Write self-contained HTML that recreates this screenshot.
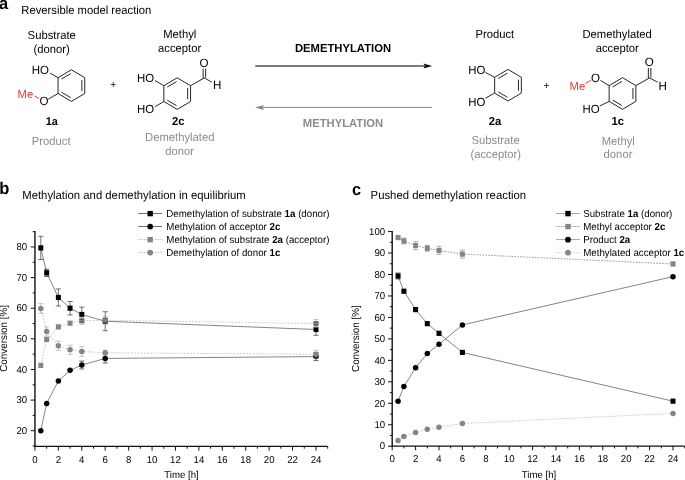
<!DOCTYPE html>
<html lang="en">
<head>
<meta charset="utf-8">
<title>Reversible model reaction</title>
<style>
html,body{margin:0;padding:0;background:#fff;}
body{width:685px;height:480px;overflow:hidden;}
svg{display:block;font-family:"Liberation Sans",sans-serif;text-rendering:geometricPrecision;}
</style>
</head>
<body>
<svg width="685" height="480" viewBox="0 0 685 480">
<rect width="685" height="480" fill="#fff"/>
<g id="panel-a">
<text transform="translate(-0.90 8.75) scale(1 1.035)" font-size="16.5" text-anchor="start" font-weight="bold" fill="#000">a</text>
<text transform="translate(21.30 13.75) scale(1 1.035)" font-size="11.25" text-anchor="start" fill="#000">Reversible model reaction</text>
<text transform="translate(51.70 38.90) scale(1 1.035)" font-size="11.25" text-anchor="middle" fill="#000">Substrate</text>
<text transform="translate(51.60 53.20) scale(1 1.035)" font-size="11.25" text-anchor="middle" fill="#000">(donor)</text>
<polygon points="71.40,69.80 84.75,77.70 84.75,93.50 71.40,101.40 58.05,93.50 58.05,77.70" fill="none" stroke="#1a1a1a" stroke-width="0.95" stroke-linejoin="round"/>
<line x1="61.54" y1="79.00" x2="70.76" y2="73.55" stroke="#1a1a1a" stroke-width="0.95"/>
<line x1="81.85" y1="80.10" x2="81.85" y2="91.10" stroke="#1a1a1a" stroke-width="0.95"/>
<line x1="70.76" y1="97.65" x2="61.54" y2="92.20" stroke="#1a1a1a" stroke-width="0.95"/>
<text transform="translate(48.90 74.30) scale(1 1.035)" font-size="11.5" text-anchor="end" fill="#000">HO</text>
<line x1="49.90" y1="73.00" x2="58.05" y2="77.70" stroke="#1a1a1a" stroke-width="0.95"/>
<text transform="translate(43.90 105.00) scale(1 1.035)" font-size="11.6" text-anchor="middle" fill="#000">O</text>
<line x1="48.20" y1="99.20" x2="58.05" y2="93.50" stroke="#1a1a1a" stroke-width="0.95"/>
<text transform="translate(17.60 98.10) scale(1 1.035)" font-size="11.25" text-anchor="start" fill="#df3b32">Me</text>
<line x1="34.60" y1="96.00" x2="39.00" y2="98.50" stroke="#df3b32" stroke-width="0.95"/>
<text transform="translate(51.70 124.50) scale(1 1.035)" font-size="10.9" text-anchor="middle" font-weight="bold" fill="#000">1a</text>
<text transform="translate(51.20 144.50) scale(1 1.035)" font-size="11.25" text-anchor="middle" fill="#8c8c8c">Product</text>
<text transform="translate(113.10 88.20) scale(1 1.035)" font-size="10" text-anchor="middle" fill="#000">+</text>
<text transform="translate(179.80 38.00) scale(1 1.035)" font-size="11.25" text-anchor="middle" fill="#000">Methyl</text>
<text transform="translate(179.60 51.90) scale(1 1.035)" font-size="11.25" text-anchor="middle" fill="#000">acceptor</text>
<polygon points="177.20,77.80 190.55,85.70 190.55,101.50 177.20,109.40 163.85,101.50 163.85,85.70" fill="none" stroke="#1a1a1a" stroke-width="0.95" stroke-linejoin="round"/>
<line x1="167.34" y1="87.00" x2="176.56" y2="81.55" stroke="#1a1a1a" stroke-width="0.95"/>
<line x1="187.65" y1="88.10" x2="187.65" y2="99.10" stroke="#1a1a1a" stroke-width="0.95"/>
<line x1="176.56" y1="105.65" x2="167.34" y2="100.20" stroke="#1a1a1a" stroke-width="0.95"/>
<text transform="translate(154.20 82.40) scale(1 1.035)" font-size="11.4" text-anchor="end" fill="#000">HO</text>
<line x1="155.00" y1="80.60" x2="163.85" y2="85.70" stroke="#1a1a1a" stroke-width="0.95"/>
<text transform="translate(154.20 113.40) scale(1 1.035)" font-size="11.4" text-anchor="end" fill="#000">HO</text>
<line x1="155.00" y1="106.70" x2="163.85" y2="101.50" stroke="#1a1a1a" stroke-width="0.95"/>
<line x1="190.55" y1="85.70" x2="204.40" y2="77.90" stroke="#1a1a1a" stroke-width="0.95"/>
<line x1="203.15" y1="78.20" x2="203.15" y2="68.60" stroke="#1a1a1a" stroke-width="0.95"/>
<line x1="205.65" y1="77.50" x2="205.65" y2="68.60" stroke="#1a1a1a" stroke-width="0.95"/>
<text transform="translate(203.90 66.80) scale(1 1.035)" font-size="11.6" text-anchor="middle" fill="#000">O</text>
<line x1="204.40" y1="77.90" x2="211.80" y2="82.20" stroke="#1a1a1a" stroke-width="0.95"/>
<text transform="translate(217.30 89.00) scale(1 1.035)" font-size="11.6" text-anchor="middle" fill="#000">H</text>
<text transform="translate(178.30 124.50) scale(1 1.035)" font-size="11.25" text-anchor="middle" font-weight="bold" fill="#000">2c</text>
<text transform="translate(179.80 141.30) scale(1 1.035)" font-size="11.25" text-anchor="middle" fill="#8c8c8c">Demethylated</text>
<text transform="translate(179.60 155.20) scale(1 1.035)" font-size="11.25" text-anchor="middle" fill="#8c8c8c">donor</text>
<line x1="255.20" y1="66.00" x2="426.00" y2="66.00" stroke="#505050" stroke-width="1.3"/>
<polygon points="432.3,66.0 423.5,63.5 425.0,66.0 423.5,68.5" fill="#111"/>
<text transform="translate(343.00 52.10) scale(1 1.035)" font-size="11.25" text-anchor="middle" font-weight="bold" fill="#000">DEMETHYLATION</text>
<line x1="262.00" y1="107.40" x2="432.10" y2="107.40" stroke="#8a8a8a" stroke-width="1.0"/>
<polygon points="255,107.4 264,104.9 262.4,107.4 264,109.9" fill="#8a8a8a"/>
<text transform="translate(343.00 127.20) scale(1 1.035)" font-size="11.25" text-anchor="middle" font-weight="bold" fill="#8c8c8c">METHYLATION</text>
<text transform="translate(494.80 37.90) scale(1 1.035)" font-size="11.25" text-anchor="middle" fill="#000">Product</text>
<polygon points="508.00,69.40 521.35,77.30 521.35,93.10 508.00,101.00 494.65,93.10 494.65,77.30" fill="none" stroke="#1a1a1a" stroke-width="0.95" stroke-linejoin="round"/>
<line x1="498.14" y1="78.60" x2="507.36" y2="73.15" stroke="#1a1a1a" stroke-width="0.95"/>
<line x1="518.45" y1="79.70" x2="518.45" y2="90.70" stroke="#1a1a1a" stroke-width="0.95"/>
<line x1="507.36" y1="97.25" x2="498.14" y2="91.80" stroke="#1a1a1a" stroke-width="0.95"/>
<text transform="translate(485.30 74.20) scale(1 1.035)" font-size="11.4" text-anchor="end" fill="#000">HO</text>
<line x1="485.40" y1="72.40" x2="494.65" y2="77.30" stroke="#1a1a1a" stroke-width="0.95"/>
<text transform="translate(485.30 105.70) scale(1 1.035)" font-size="11.4" text-anchor="end" fill="#000">HO</text>
<line x1="485.40" y1="98.20" x2="494.65" y2="93.10" stroke="#1a1a1a" stroke-width="0.95"/>
<text transform="translate(495.00 124.50) scale(1 1.035)" font-size="11.25" text-anchor="middle" font-weight="bold" fill="#000">2a</text>
<text transform="translate(495.60 144.20) scale(1 1.035)" font-size="11.25" text-anchor="middle" fill="#8c8c8c">Substrate</text>
<text transform="translate(495.80 157.60) scale(1 1.035)" font-size="11.25" text-anchor="middle" fill="#8c8c8c">(acceptor)</text>
<text transform="translate(546.30 89.00) scale(1 1.035)" font-size="10" text-anchor="middle" fill="#000">+</text>
<text transform="translate(617.10 38.30) scale(1 1.035)" font-size="11.25" text-anchor="middle" fill="#000">Demethylated</text>
<text transform="translate(617.30 52.20) scale(1 1.035)" font-size="11.25" text-anchor="middle" fill="#000">acceptor</text>
<polygon points="622.50,77.70 635.85,85.60 635.85,101.40 622.50,109.30 609.15,101.40 609.15,85.60" fill="none" stroke="#1a1a1a" stroke-width="0.95" stroke-linejoin="round"/>
<line x1="612.64" y1="86.90" x2="621.86" y2="81.45" stroke="#1a1a1a" stroke-width="0.95"/>
<line x1="632.95" y1="88.00" x2="632.95" y2="99.00" stroke="#1a1a1a" stroke-width="0.95"/>
<line x1="621.86" y1="105.55" x2="612.64" y2="100.10" stroke="#1a1a1a" stroke-width="0.95"/>
<text transform="translate(595.40 81.90) scale(1 1.035)" font-size="11.6" text-anchor="middle" fill="#000">O</text>
<line x1="600.40" y1="80.40" x2="609.15" y2="85.60" stroke="#1a1a1a" stroke-width="0.95"/>
<text transform="translate(569.60 89.60) scale(1 1.035)" font-size="11.25" text-anchor="start" fill="#df3b32">Me</text>
<line x1="585.40" y1="83.50" x2="590.80" y2="80.40" stroke="#df3b32" stroke-width="0.95"/>
<text transform="translate(599.60 113.40) scale(1 1.035)" font-size="11.4" text-anchor="end" fill="#000">HO</text>
<line x1="599.70" y1="106.00" x2="609.15" y2="101.40" stroke="#1a1a1a" stroke-width="0.95"/>
<line x1="635.85" y1="85.60" x2="649.60" y2="77.90" stroke="#1a1a1a" stroke-width="0.95"/>
<line x1="648.35" y1="78.20" x2="648.35" y2="68.00" stroke="#1a1a1a" stroke-width="0.95"/>
<line x1="650.85" y1="77.50" x2="650.85" y2="68.00" stroke="#1a1a1a" stroke-width="0.95"/>
<text transform="translate(649.20 66.30) scale(1 1.035)" font-size="11.6" text-anchor="middle" fill="#000">O</text>
<line x1="649.60" y1="77.90" x2="657.60" y2="82.20" stroke="#1a1a1a" stroke-width="0.95"/>
<text transform="translate(662.70 89.60) scale(1 1.035)" font-size="11.6" text-anchor="middle" fill="#000">H</text>
<text transform="translate(617.80 124.50) scale(1 1.035)" font-size="11.25" text-anchor="middle" font-weight="bold" fill="#000">1c</text>
<text transform="translate(618.20 144.50) scale(1 1.035)" font-size="11.25" text-anchor="middle" fill="#8c8c8c">Methyl</text>
<text transform="translate(618.00 157.60) scale(1 1.035)" font-size="11.25" text-anchor="middle" fill="#8c8c8c">donor</text>
</g>
<text transform="translate(-0.70 194.30) scale(1 1.035)" font-size="16.5" text-anchor="start" font-weight="bold" fill="#000">b</text>
<text transform="translate(22.20 198.70) scale(1 1.035)" font-size="11.33" text-anchor="start" fill="#000">Methylation and demethylation in equilibrium</text>
<g id="chart-b">
<line x1="34.95" y1="231.06" x2="34.95" y2="447.00" stroke="#111" stroke-width="1.4"/>
<line x1="34.35" y1="446.40" x2="327.70" y2="446.40" stroke="#111" stroke-width="1.4"/>
<line x1="32.65" y1="446.00" x2="34.95" y2="446.00" stroke="#111" stroke-width="1.0"/>
<line x1="30.75" y1="430.69" x2="34.95" y2="430.69" stroke="#111" stroke-width="1.0"/>
<text transform="translate(27.20 433.89) scale(1 1.035)" font-size="9.65" text-anchor="end" fill="#000">20</text>
<line x1="32.65" y1="415.38" x2="34.95" y2="415.38" stroke="#111" stroke-width="1.0"/>
<line x1="30.75" y1="400.07" x2="34.95" y2="400.07" stroke="#111" stroke-width="1.0"/>
<text transform="translate(27.20 403.27) scale(1 1.035)" font-size="9.65" text-anchor="end" fill="#000">30</text>
<line x1="32.65" y1="384.76" x2="34.95" y2="384.76" stroke="#111" stroke-width="1.0"/>
<line x1="30.75" y1="369.45" x2="34.95" y2="369.45" stroke="#111" stroke-width="1.0"/>
<text transform="translate(27.20 372.65) scale(1 1.035)" font-size="9.65" text-anchor="end" fill="#000">40</text>
<line x1="32.65" y1="354.14" x2="34.95" y2="354.14" stroke="#111" stroke-width="1.0"/>
<line x1="30.75" y1="338.83" x2="34.95" y2="338.83" stroke="#111" stroke-width="1.0"/>
<text transform="translate(27.20 342.03) scale(1 1.035)" font-size="9.65" text-anchor="end" fill="#000">50</text>
<line x1="32.65" y1="323.52" x2="34.95" y2="323.52" stroke="#111" stroke-width="1.0"/>
<line x1="30.75" y1="308.21" x2="34.95" y2="308.21" stroke="#111" stroke-width="1.0"/>
<text transform="translate(27.20 311.41) scale(1 1.035)" font-size="9.65" text-anchor="end" fill="#000">60</text>
<line x1="32.65" y1="292.90" x2="34.95" y2="292.90" stroke="#111" stroke-width="1.0"/>
<line x1="30.75" y1="277.59" x2="34.95" y2="277.59" stroke="#111" stroke-width="1.0"/>
<text transform="translate(27.20 280.79) scale(1 1.035)" font-size="9.65" text-anchor="end" fill="#000">70</text>
<line x1="32.65" y1="262.28" x2="34.95" y2="262.28" stroke="#111" stroke-width="1.0"/>
<line x1="30.75" y1="246.97" x2="34.95" y2="246.97" stroke="#111" stroke-width="1.0"/>
<text transform="translate(27.20 250.17) scale(1 1.035)" font-size="9.65" text-anchor="end" fill="#000">80</text>
<line x1="32.65" y1="231.66" x2="34.95" y2="231.66" stroke="#111" stroke-width="1.0"/>
<line x1="34.95" y1="446.40" x2="34.95" y2="450.60" stroke="#111" stroke-width="1.0"/>
<text transform="translate(34.95 462.70) scale(1 1.035)" font-size="9.65" text-anchor="middle" fill="#000">0</text>
<line x1="46.66" y1="446.40" x2="46.66" y2="448.70" stroke="#111" stroke-width="1.0"/>
<line x1="58.37" y1="446.40" x2="58.37" y2="450.60" stroke="#111" stroke-width="1.0"/>
<text transform="translate(58.37 462.70) scale(1 1.035)" font-size="9.65" text-anchor="middle" fill="#000">2</text>
<line x1="70.08" y1="446.40" x2="70.08" y2="448.70" stroke="#111" stroke-width="1.0"/>
<line x1="81.79" y1="446.40" x2="81.79" y2="450.60" stroke="#111" stroke-width="1.0"/>
<text transform="translate(81.79 462.70) scale(1 1.035)" font-size="9.65" text-anchor="middle" fill="#000">4</text>
<line x1="93.50" y1="446.40" x2="93.50" y2="448.70" stroke="#111" stroke-width="1.0"/>
<line x1="105.21" y1="446.40" x2="105.21" y2="450.60" stroke="#111" stroke-width="1.0"/>
<text transform="translate(105.21 462.70) scale(1 1.035)" font-size="9.65" text-anchor="middle" fill="#000">6</text>
<line x1="116.92" y1="446.40" x2="116.92" y2="448.70" stroke="#111" stroke-width="1.0"/>
<line x1="128.63" y1="446.40" x2="128.63" y2="450.60" stroke="#111" stroke-width="1.0"/>
<text transform="translate(128.63 462.70) scale(1 1.035)" font-size="9.65" text-anchor="middle" fill="#000">8</text>
<line x1="140.34" y1="446.40" x2="140.34" y2="448.70" stroke="#111" stroke-width="1.0"/>
<line x1="152.05" y1="446.40" x2="152.05" y2="450.60" stroke="#111" stroke-width="1.0"/>
<text transform="translate(152.05 462.70) scale(1 1.035)" font-size="9.65" text-anchor="middle" fill="#000">10</text>
<line x1="163.76" y1="446.40" x2="163.76" y2="448.70" stroke="#111" stroke-width="1.0"/>
<line x1="175.47" y1="446.40" x2="175.47" y2="450.60" stroke="#111" stroke-width="1.0"/>
<text transform="translate(175.47 462.70) scale(1 1.035)" font-size="9.65" text-anchor="middle" fill="#000">12</text>
<line x1="187.18" y1="446.40" x2="187.18" y2="448.70" stroke="#111" stroke-width="1.0"/>
<line x1="198.89" y1="446.40" x2="198.89" y2="450.60" stroke="#111" stroke-width="1.0"/>
<text transform="translate(198.89 462.70) scale(1 1.035)" font-size="9.65" text-anchor="middle" fill="#000">14</text>
<line x1="210.60" y1="446.40" x2="210.60" y2="448.70" stroke="#111" stroke-width="1.0"/>
<line x1="222.31" y1="446.40" x2="222.31" y2="450.60" stroke="#111" stroke-width="1.0"/>
<text transform="translate(222.31 462.70) scale(1 1.035)" font-size="9.65" text-anchor="middle" fill="#000">16</text>
<line x1="234.02" y1="446.40" x2="234.02" y2="448.70" stroke="#111" stroke-width="1.0"/>
<line x1="245.73" y1="446.40" x2="245.73" y2="450.60" stroke="#111" stroke-width="1.0"/>
<text transform="translate(245.73 462.70) scale(1 1.035)" font-size="9.65" text-anchor="middle" fill="#000">18</text>
<line x1="257.44" y1="446.40" x2="257.44" y2="448.70" stroke="#111" stroke-width="1.0"/>
<line x1="269.15" y1="446.40" x2="269.15" y2="450.60" stroke="#111" stroke-width="1.0"/>
<text transform="translate(269.15 462.70) scale(1 1.035)" font-size="9.65" text-anchor="middle" fill="#000">20</text>
<line x1="280.86" y1="446.40" x2="280.86" y2="448.70" stroke="#111" stroke-width="1.0"/>
<line x1="292.57" y1="446.40" x2="292.57" y2="450.60" stroke="#111" stroke-width="1.0"/>
<text transform="translate(292.57 462.70) scale(1 1.035)" font-size="9.65" text-anchor="middle" fill="#000">22</text>
<line x1="304.28" y1="446.40" x2="304.28" y2="448.70" stroke="#111" stroke-width="1.0"/>
<line x1="315.99" y1="446.40" x2="315.99" y2="450.60" stroke="#111" stroke-width="1.0"/>
<text transform="translate(315.99 462.70) scale(1 1.035)" font-size="9.65" text-anchor="middle" fill="#000">24</text>
<line x1="327.70" y1="446.40" x2="327.70" y2="448.70" stroke="#111" stroke-width="1.0"/>
<polyline points="40.81,247.89 46.66,272.84 58.37,297.49 70.08,308.21 81.79,314.49 105.21,321.22 315.99,329.49" fill="none" stroke="#333" stroke-width="0.6"/>
<line x1="40.81" y1="236.25" x2="40.81" y2="259.52" stroke="#000" stroke-width="0.55"/>
<line x1="38.21" y1="236.25" x2="43.41" y2="236.25" stroke="#000" stroke-width="0.55"/>
<line x1="38.21" y1="259.52" x2="43.41" y2="259.52" stroke="#000" stroke-width="0.55"/>
<line x1="46.66" y1="269.17" x2="46.66" y2="276.52" stroke="#000" stroke-width="0.55"/>
<line x1="44.06" y1="269.17" x2="49.26" y2="269.17" stroke="#000" stroke-width="0.55"/>
<line x1="44.06" y1="276.52" x2="49.26" y2="276.52" stroke="#000" stroke-width="0.55"/>
<line x1="58.37" y1="288.92" x2="58.37" y2="306.07" stroke="#000" stroke-width="0.55"/>
<line x1="55.77" y1="288.92" x2="60.97" y2="288.92" stroke="#000" stroke-width="0.55"/>
<line x1="55.77" y1="306.07" x2="60.97" y2="306.07" stroke="#000" stroke-width="0.55"/>
<line x1="70.08" y1="301.47" x2="70.08" y2="314.95" stroke="#000" stroke-width="0.55"/>
<line x1="67.48" y1="301.47" x2="72.68" y2="301.47" stroke="#000" stroke-width="0.55"/>
<line x1="67.48" y1="314.95" x2="72.68" y2="314.95" stroke="#000" stroke-width="0.55"/>
<line x1="81.79" y1="307.14" x2="81.79" y2="321.84" stroke="#000" stroke-width="0.55"/>
<line x1="79.19" y1="307.14" x2="84.39" y2="307.14" stroke="#000" stroke-width="0.55"/>
<line x1="79.19" y1="321.84" x2="84.39" y2="321.84" stroke="#000" stroke-width="0.55"/>
<line x1="105.21" y1="311.73" x2="105.21" y2="330.72" stroke="#000" stroke-width="0.55"/>
<line x1="102.61" y1="311.73" x2="107.81" y2="311.73" stroke="#000" stroke-width="0.55"/>
<line x1="102.61" y1="330.72" x2="107.81" y2="330.72" stroke="#000" stroke-width="0.55"/>
<line x1="315.99" y1="323.67" x2="315.99" y2="335.31" stroke="#000" stroke-width="0.55"/>
<line x1="313.39" y1="323.67" x2="318.59" y2="323.67" stroke="#000" stroke-width="0.55"/>
<line x1="313.39" y1="335.31" x2="318.59" y2="335.31" stroke="#000" stroke-width="0.55"/>
<rect x="38.31" y="245.29" width="5" height="5.2" fill="#000"/>
<rect x="44.16" y="270.24" width="5" height="5.2" fill="#000"/>
<rect x="55.87" y="294.89" width="5" height="5.2" fill="#000"/>
<rect x="67.58" y="305.61" width="5" height="5.2" fill="#000"/>
<rect x="79.29" y="311.89" width="5" height="5.2" fill="#000"/>
<rect x="102.71" y="318.62" width="5" height="5.2" fill="#000"/>
<rect x="313.49" y="326.89" width="5" height="5.2" fill="#000"/>
<polyline points="40.81,430.69 46.66,403.44 58.37,380.93 70.08,370.37 81.79,365.01 105.21,358.43 315.99,356.59" fill="none" stroke="#333" stroke-width="0.6"/>
<line x1="81.79" y1="361.03" x2="81.79" y2="368.99" stroke="#000" stroke-width="0.55"/>
<line x1="79.19" y1="361.03" x2="84.39" y2="361.03" stroke="#000" stroke-width="0.55"/>
<line x1="79.19" y1="368.99" x2="84.39" y2="368.99" stroke="#000" stroke-width="0.55"/>
<line x1="105.21" y1="353.83" x2="105.21" y2="363.02" stroke="#000" stroke-width="0.55"/>
<line x1="102.61" y1="353.83" x2="107.81" y2="353.83" stroke="#000" stroke-width="0.55"/>
<line x1="102.61" y1="363.02" x2="107.81" y2="363.02" stroke="#000" stroke-width="0.55"/>
<line x1="315.99" y1="352.61" x2="315.99" y2="360.57" stroke="#000" stroke-width="0.55"/>
<line x1="313.39" y1="352.61" x2="318.59" y2="352.61" stroke="#000" stroke-width="0.55"/>
<line x1="313.39" y1="360.57" x2="318.59" y2="360.57" stroke="#000" stroke-width="0.55"/>
<circle cx="40.81" cy="430.69" r="2.75" fill="#000"/>
<circle cx="46.66" cy="403.44" r="2.75" fill="#000"/>
<circle cx="58.37" cy="380.93" r="2.75" fill="#000"/>
<circle cx="70.08" cy="370.37" r="2.75" fill="#000"/>
<circle cx="81.79" cy="365.01" r="2.75" fill="#000"/>
<circle cx="105.21" cy="358.43" r="2.75" fill="#000"/>
<circle cx="315.99" cy="356.59" r="2.75" fill="#000"/>
<polyline points="40.81,365.38 46.66,339.44 58.37,326.89 70.08,323.21 81.79,320.76 105.21,320.30 315.99,323.52" fill="none" stroke="#a4a4a4" stroke-width="0.6" stroke-dasharray="1.8,1.5"/>
<line x1="81.79" y1="317.09" x2="81.79" y2="324.44" stroke="#989898" stroke-width="0.55"/>
<line x1="79.19" y1="317.09" x2="84.39" y2="317.09" stroke="#989898" stroke-width="0.55"/>
<line x1="79.19" y1="324.44" x2="84.39" y2="324.44" stroke="#989898" stroke-width="0.55"/>
<line x1="105.21" y1="316.42" x2="105.21" y2="324.19" stroke="#989898" stroke-width="0.55"/>
<line x1="102.61" y1="316.42" x2="107.81" y2="316.42" stroke="#989898" stroke-width="0.55"/>
<line x1="102.61" y1="324.19" x2="107.81" y2="324.19" stroke="#989898" stroke-width="0.55"/>
<line x1="315.99" y1="319.54" x2="315.99" y2="327.50" stroke="#989898" stroke-width="0.55"/>
<line x1="313.39" y1="319.54" x2="318.59" y2="319.54" stroke="#989898" stroke-width="0.55"/>
<line x1="313.39" y1="327.50" x2="318.59" y2="327.50" stroke="#989898" stroke-width="0.55"/>
<rect x="38.31" y="362.78" width="5" height="5.2" fill="#858585"/>
<rect x="44.16" y="336.84" width="5" height="5.2" fill="#858585"/>
<rect x="55.87" y="324.29" width="5" height="5.2" fill="#858585"/>
<rect x="67.58" y="320.61" width="5" height="5.2" fill="#858585"/>
<rect x="79.29" y="318.16" width="5" height="5.2" fill="#858585"/>
<line x1="79.29" y1="319.42" x2="84.29" y2="319.42" stroke="#3a3a3a" stroke-width="0.6"/>
<line x1="79.29" y1="322.11" x2="84.29" y2="322.11" stroke="#3a3a3a" stroke-width="0.6"/>
<rect x="102.71" y="317.70" width="5" height="5.2" fill="#858585"/>
<line x1="102.71" y1="318.41" x2="107.71" y2="318.41" stroke="#3a3a3a" stroke-width="0.6"/>
<line x1="102.71" y1="322.20" x2="107.71" y2="322.20" stroke="#3a3a3a" stroke-width="0.6"/>
<rect x="313.49" y="320.92" width="5" height="5.2" fill="#858585"/>
<line x1="313.49" y1="322.30" x2="318.49" y2="322.30" stroke="#3a3a3a" stroke-width="0.6"/>
<line x1="313.49" y1="324.74" x2="318.49" y2="324.74" stroke="#3a3a3a" stroke-width="0.6"/>
<polyline points="40.81,308.52 46.66,331.48 58.37,345.78 70.08,349.85 81.79,351.48 105.21,352.76 315.99,354.29" fill="none" stroke="#a4a4a4" stroke-width="0.6" stroke-dasharray="1.8,1.5"/>
<line x1="40.81" y1="303.62" x2="40.81" y2="313.42" stroke="#989898" stroke-width="0.55"/>
<line x1="38.21" y1="303.62" x2="43.41" y2="303.62" stroke="#989898" stroke-width="0.55"/>
<line x1="38.21" y1="313.42" x2="43.41" y2="313.42" stroke="#989898" stroke-width="0.55"/>
<line x1="46.66" y1="326.89" x2="46.66" y2="336.07" stroke="#989898" stroke-width="0.55"/>
<line x1="44.06" y1="326.89" x2="49.26" y2="326.89" stroke="#989898" stroke-width="0.55"/>
<line x1="44.06" y1="336.07" x2="49.26" y2="336.07" stroke="#989898" stroke-width="0.55"/>
<line x1="58.37" y1="341.19" x2="58.37" y2="350.37" stroke="#989898" stroke-width="0.55"/>
<line x1="55.77" y1="341.19" x2="60.97" y2="341.19" stroke="#989898" stroke-width="0.55"/>
<line x1="55.77" y1="350.37" x2="60.97" y2="350.37" stroke="#989898" stroke-width="0.55"/>
<line x1="70.08" y1="345.26" x2="70.08" y2="354.45" stroke="#989898" stroke-width="0.55"/>
<line x1="67.48" y1="345.26" x2="72.68" y2="345.26" stroke="#989898" stroke-width="0.55"/>
<line x1="67.48" y1="354.45" x2="72.68" y2="354.45" stroke="#989898" stroke-width="0.55"/>
<line x1="81.79" y1="346.58" x2="81.79" y2="356.38" stroke="#989898" stroke-width="0.55"/>
<line x1="79.19" y1="346.58" x2="84.39" y2="346.58" stroke="#989898" stroke-width="0.55"/>
<line x1="79.19" y1="356.38" x2="84.39" y2="356.38" stroke="#989898" stroke-width="0.55"/>
<line x1="105.21" y1="350.31" x2="105.21" y2="355.21" stroke="#989898" stroke-width="0.55"/>
<line x1="102.61" y1="350.31" x2="107.81" y2="350.31" stroke="#989898" stroke-width="0.55"/>
<line x1="102.61" y1="355.21" x2="107.81" y2="355.21" stroke="#989898" stroke-width="0.55"/>
<line x1="315.99" y1="350.31" x2="315.99" y2="358.27" stroke="#989898" stroke-width="0.55"/>
<line x1="313.39" y1="350.31" x2="318.59" y2="350.31" stroke="#989898" stroke-width="0.55"/>
<line x1="313.39" y1="358.27" x2="318.59" y2="358.27" stroke="#989898" stroke-width="0.55"/>
<circle cx="40.81" cy="308.52" r="2.75" fill="#858585"/>
<circle cx="46.66" cy="331.48" r="2.75" fill="#858585"/>
<circle cx="58.37" cy="345.78" r="2.75" fill="#858585"/>
<circle cx="70.08" cy="349.85" r="2.75" fill="#858585"/>
<circle cx="81.79" cy="351.48" r="2.75" fill="#858585"/>
<circle cx="105.21" cy="352.76" r="2.75" fill="#858585"/>
<circle cx="315.99" cy="354.29" r="2.75" fill="#858585"/>
</g>
<line x1="138.20" y1="213.50" x2="162.20" y2="213.50" stroke="#333" stroke-width="0.7"/>
<rect x="147.50" y="210.90" width="5.4" height="5.4" fill="#000"/>
<text transform="translate(166.30 217.20) scale(1 1.035)" font-size="9.73" text-anchor="start" fill="#000">Demethylation of substrate <tspan font-weight="bold">1a</tspan> (donor)</text>
<line x1="138.20" y1="226.50" x2="162.20" y2="226.50" stroke="#333" stroke-width="0.7"/>
<circle cx="150.20" cy="226.60" r="2.9" fill="#000"/>
<text transform="translate(166.30 230.20) scale(1 1.035)" font-size="9.73" text-anchor="start" fill="#000">Methylation of acceptor <tspan font-weight="bold">2c</tspan></text>
<line x1="138.20" y1="239.60" x2="162.20" y2="239.60" stroke="#a4a4a4" stroke-width="0.7" stroke-dasharray="1.6,1.2"/>
<rect x="147.50" y="237.00" width="5.4" height="5.4" fill="#858585"/>
<text transform="translate(166.30 243.30) scale(1 1.035)" font-size="9.73" text-anchor="start" fill="#000">Methylation of substrate <tspan font-weight="bold">2a</tspan> (acceptor)</text>
<line x1="138.20" y1="252.50" x2="162.20" y2="252.50" stroke="#a4a4a4" stroke-width="0.7" stroke-dasharray="1.6,1.2"/>
<circle cx="150.20" cy="252.60" r="2.9" fill="#858585"/>
<text transform="translate(166.30 256.20) scale(1 1.035)" font-size="9.73" text-anchor="start" fill="#000">Demethylation of donor <tspan font-weight="bold">1c</tspan></text>
<text transform="translate(7.30 338.40) rotate(-90) scale(1 1.035)" font-size="9.85" text-anchor="middle" fill="#000">Conversion [%]</text>
<text transform="translate(181.50 477.80) scale(1 1.035)" font-size="9.6" text-anchor="middle" fill="#000">Time [h]</text>
<text transform="translate(351.90 194.60) scale(1 1.035)" font-size="16.3" text-anchor="start" font-weight="bold" fill="#000">c</text>
<text transform="translate(370.60 198.75) scale(1 1.035)" font-size="11.33" text-anchor="start" fill="#000">Pushed demethylation reaction</text>
<g id="chart-c">
<line x1="392.20" y1="230.95" x2="392.20" y2="446.70" stroke="#111" stroke-width="1.4"/>
<line x1="391.60" y1="446.10" x2="684.70" y2="446.10" stroke="#111" stroke-width="1.4"/>
<line x1="388.00" y1="446.25" x2="392.20" y2="446.25" stroke="#111" stroke-width="1.0"/>
<text transform="translate(385.10 449.45) scale(1 1.035)" font-size="9.65" text-anchor="end" fill="#000">0</text>
<line x1="389.90" y1="435.51" x2="392.20" y2="435.51" stroke="#111" stroke-width="1.0"/>
<line x1="388.00" y1="424.78" x2="392.20" y2="424.78" stroke="#111" stroke-width="1.0"/>
<text transform="translate(385.10 427.98) scale(1 1.035)" font-size="9.65" text-anchor="end" fill="#000">10</text>
<line x1="389.90" y1="414.05" x2="392.20" y2="414.05" stroke="#111" stroke-width="1.0"/>
<line x1="388.00" y1="403.31" x2="392.20" y2="403.31" stroke="#111" stroke-width="1.0"/>
<text transform="translate(385.10 406.51) scale(1 1.035)" font-size="9.65" text-anchor="end" fill="#000">20</text>
<line x1="389.90" y1="392.57" x2="392.20" y2="392.57" stroke="#111" stroke-width="1.0"/>
<line x1="388.00" y1="381.84" x2="392.20" y2="381.84" stroke="#111" stroke-width="1.0"/>
<text transform="translate(385.10 385.04) scale(1 1.035)" font-size="9.65" text-anchor="end" fill="#000">30</text>
<line x1="389.90" y1="371.11" x2="392.20" y2="371.11" stroke="#111" stroke-width="1.0"/>
<line x1="388.00" y1="360.37" x2="392.20" y2="360.37" stroke="#111" stroke-width="1.0"/>
<text transform="translate(385.10 363.57) scale(1 1.035)" font-size="9.65" text-anchor="end" fill="#000">40</text>
<line x1="389.90" y1="349.63" x2="392.20" y2="349.63" stroke="#111" stroke-width="1.0"/>
<line x1="388.00" y1="338.90" x2="392.20" y2="338.90" stroke="#111" stroke-width="1.0"/>
<text transform="translate(385.10 342.10) scale(1 1.035)" font-size="9.65" text-anchor="end" fill="#000">50</text>
<line x1="389.90" y1="328.17" x2="392.20" y2="328.17" stroke="#111" stroke-width="1.0"/>
<line x1="388.00" y1="317.43" x2="392.20" y2="317.43" stroke="#111" stroke-width="1.0"/>
<text transform="translate(385.10 320.63) scale(1 1.035)" font-size="9.65" text-anchor="end" fill="#000">60</text>
<line x1="389.90" y1="306.70" x2="392.20" y2="306.70" stroke="#111" stroke-width="1.0"/>
<line x1="388.00" y1="295.96" x2="392.20" y2="295.96" stroke="#111" stroke-width="1.0"/>
<text transform="translate(385.10 299.16) scale(1 1.035)" font-size="9.65" text-anchor="end" fill="#000">70</text>
<line x1="389.90" y1="285.23" x2="392.20" y2="285.23" stroke="#111" stroke-width="1.0"/>
<line x1="388.00" y1="274.49" x2="392.20" y2="274.49" stroke="#111" stroke-width="1.0"/>
<text transform="translate(385.10 277.69) scale(1 1.035)" font-size="9.65" text-anchor="end" fill="#000">80</text>
<line x1="389.90" y1="263.75" x2="392.20" y2="263.75" stroke="#111" stroke-width="1.0"/>
<line x1="388.00" y1="253.02" x2="392.20" y2="253.02" stroke="#111" stroke-width="1.0"/>
<text transform="translate(385.10 256.22) scale(1 1.035)" font-size="9.65" text-anchor="end" fill="#000">90</text>
<line x1="389.90" y1="242.29" x2="392.20" y2="242.29" stroke="#111" stroke-width="1.0"/>
<line x1="388.00" y1="231.55" x2="392.20" y2="231.55" stroke="#111" stroke-width="1.0"/>
<text transform="translate(385.10 234.75) scale(1 1.035)" font-size="9.65" text-anchor="end" fill="#000">100</text>
<line x1="392.20" y1="446.10" x2="392.20" y2="450.30" stroke="#111" stroke-width="1.0"/>
<text transform="translate(392.20 462.40) scale(1 1.035)" font-size="9.65" text-anchor="middle" fill="#000">0</text>
<line x1="403.90" y1="446.10" x2="403.90" y2="448.40" stroke="#111" stroke-width="1.0"/>
<line x1="415.60" y1="446.10" x2="415.60" y2="450.30" stroke="#111" stroke-width="1.0"/>
<text transform="translate(415.60 462.40) scale(1 1.035)" font-size="9.65" text-anchor="middle" fill="#000">2</text>
<line x1="427.30" y1="446.10" x2="427.30" y2="448.40" stroke="#111" stroke-width="1.0"/>
<line x1="439.00" y1="446.10" x2="439.00" y2="450.30" stroke="#111" stroke-width="1.0"/>
<text transform="translate(439.00 462.40) scale(1 1.035)" font-size="9.65" text-anchor="middle" fill="#000">4</text>
<line x1="450.70" y1="446.10" x2="450.70" y2="448.40" stroke="#111" stroke-width="1.0"/>
<line x1="462.40" y1="446.10" x2="462.40" y2="450.30" stroke="#111" stroke-width="1.0"/>
<text transform="translate(462.40 462.40) scale(1 1.035)" font-size="9.65" text-anchor="middle" fill="#000">6</text>
<line x1="474.10" y1="446.10" x2="474.10" y2="448.40" stroke="#111" stroke-width="1.0"/>
<line x1="485.80" y1="446.10" x2="485.80" y2="450.30" stroke="#111" stroke-width="1.0"/>
<text transform="translate(485.80 462.40) scale(1 1.035)" font-size="9.65" text-anchor="middle" fill="#000">8</text>
<line x1="497.50" y1="446.10" x2="497.50" y2="448.40" stroke="#111" stroke-width="1.0"/>
<line x1="509.20" y1="446.10" x2="509.20" y2="450.30" stroke="#111" stroke-width="1.0"/>
<text transform="translate(509.20 462.40) scale(1 1.035)" font-size="9.65" text-anchor="middle" fill="#000">10</text>
<line x1="520.90" y1="446.10" x2="520.90" y2="448.40" stroke="#111" stroke-width="1.0"/>
<line x1="532.60" y1="446.10" x2="532.60" y2="450.30" stroke="#111" stroke-width="1.0"/>
<text transform="translate(532.60 462.40) scale(1 1.035)" font-size="9.65" text-anchor="middle" fill="#000">12</text>
<line x1="544.30" y1="446.10" x2="544.30" y2="448.40" stroke="#111" stroke-width="1.0"/>
<line x1="556.00" y1="446.10" x2="556.00" y2="450.30" stroke="#111" stroke-width="1.0"/>
<text transform="translate(556.00 462.40) scale(1 1.035)" font-size="9.65" text-anchor="middle" fill="#000">14</text>
<line x1="567.70" y1="446.10" x2="567.70" y2="448.40" stroke="#111" stroke-width="1.0"/>
<line x1="579.40" y1="446.10" x2="579.40" y2="450.30" stroke="#111" stroke-width="1.0"/>
<text transform="translate(579.40 462.40) scale(1 1.035)" font-size="9.65" text-anchor="middle" fill="#000">16</text>
<line x1="591.10" y1="446.10" x2="591.10" y2="448.40" stroke="#111" stroke-width="1.0"/>
<line x1="602.80" y1="446.10" x2="602.80" y2="450.30" stroke="#111" stroke-width="1.0"/>
<text transform="translate(602.80 462.40) scale(1 1.035)" font-size="9.65" text-anchor="middle" fill="#000">18</text>
<line x1="614.50" y1="446.10" x2="614.50" y2="448.40" stroke="#111" stroke-width="1.0"/>
<line x1="626.20" y1="446.10" x2="626.20" y2="450.30" stroke="#111" stroke-width="1.0"/>
<text transform="translate(626.20 462.40) scale(1 1.035)" font-size="9.65" text-anchor="middle" fill="#000">20</text>
<line x1="637.90" y1="446.10" x2="637.90" y2="448.40" stroke="#111" stroke-width="1.0"/>
<line x1="649.60" y1="446.10" x2="649.60" y2="450.30" stroke="#111" stroke-width="1.0"/>
<text transform="translate(649.60 462.40) scale(1 1.035)" font-size="9.65" text-anchor="middle" fill="#000">22</text>
<line x1="661.30" y1="446.10" x2="661.30" y2="448.40" stroke="#111" stroke-width="1.0"/>
<line x1="673.00" y1="446.10" x2="673.00" y2="450.30" stroke="#111" stroke-width="1.0"/>
<text transform="translate(673.00 462.40) scale(1 1.035)" font-size="9.65" text-anchor="middle" fill="#000">24</text>
<line x1="684.70" y1="446.10" x2="684.70" y2="448.40" stroke="#111" stroke-width="1.0"/>
<polyline points="398.05,275.99 403.90,291.24 415.60,309.59 427.30,323.66 439.00,333.32 462.40,352.43 673.00,401.16" fill="none" stroke="#333" stroke-width="0.6"/>
<line x1="398.05" y1="272.99" x2="398.05" y2="279.00" stroke="#000" stroke-width="0.55"/>
<line x1="395.45" y1="272.99" x2="400.65" y2="272.99" stroke="#000" stroke-width="0.55"/>
<line x1="395.45" y1="279.00" x2="400.65" y2="279.00" stroke="#000" stroke-width="0.55"/>
<rect x="395.55" y="273.39" width="5" height="5.2" fill="#000"/>
<rect x="401.40" y="288.64" width="5" height="5.2" fill="#000"/>
<rect x="413.10" y="306.99" width="5" height="5.2" fill="#000"/>
<rect x="424.80" y="321.06" width="5" height="5.2" fill="#000"/>
<rect x="436.50" y="330.72" width="5" height="5.2" fill="#000"/>
<rect x="459.90" y="349.83" width="5" height="5.2" fill="#000"/>
<rect x="670.50" y="398.56" width="5" height="5.2" fill="#000"/>
<polyline points="398.05,237.56 403.90,241.00 415.60,245.51 427.30,248.30 439.00,250.44 462.40,254.09 673.00,263.97" fill="none" stroke="#555" stroke-width="0.6" stroke-dasharray="1.6,1.3"/>
<line x1="403.90" y1="237.99" x2="403.90" y2="244.00" stroke="#858585" stroke-width="0.55"/>
<line x1="401.30" y1="237.99" x2="406.50" y2="237.99" stroke="#858585" stroke-width="0.55"/>
<line x1="401.30" y1="244.00" x2="406.50" y2="244.00" stroke="#858585" stroke-width="0.55"/>
<line x1="415.60" y1="241.43" x2="415.60" y2="249.58" stroke="#858585" stroke-width="0.55"/>
<line x1="413.00" y1="241.43" x2="418.20" y2="241.43" stroke="#858585" stroke-width="0.55"/>
<line x1="413.00" y1="249.58" x2="418.20" y2="249.58" stroke="#858585" stroke-width="0.55"/>
<line x1="427.30" y1="245.29" x2="427.30" y2="251.30" stroke="#858585" stroke-width="0.55"/>
<line x1="424.70" y1="245.29" x2="429.90" y2="245.29" stroke="#858585" stroke-width="0.55"/>
<line x1="424.70" y1="251.30" x2="429.90" y2="251.30" stroke="#858585" stroke-width="0.55"/>
<line x1="439.00" y1="246.36" x2="439.00" y2="254.52" stroke="#858585" stroke-width="0.55"/>
<line x1="436.40" y1="246.36" x2="441.60" y2="246.36" stroke="#858585" stroke-width="0.55"/>
<line x1="436.40" y1="254.52" x2="441.60" y2="254.52" stroke="#858585" stroke-width="0.55"/>
<line x1="462.40" y1="250.01" x2="462.40" y2="258.17" stroke="#858585" stroke-width="0.55"/>
<line x1="459.80" y1="250.01" x2="465.00" y2="250.01" stroke="#858585" stroke-width="0.55"/>
<line x1="459.80" y1="258.17" x2="465.00" y2="258.17" stroke="#858585" stroke-width="0.55"/>
<line x1="673.00" y1="262.25" x2="673.00" y2="265.69" stroke="#858585" stroke-width="0.55"/>
<line x1="670.40" y1="262.25" x2="675.60" y2="262.25" stroke="#858585" stroke-width="0.55"/>
<line x1="670.40" y1="265.69" x2="675.60" y2="265.69" stroke="#858585" stroke-width="0.55"/>
<rect x="395.55" y="234.96" width="5" height="5.2" fill="#858585"/>
<rect x="401.40" y="238.40" width="5" height="5.2" fill="#858585"/>
<rect x="413.10" y="242.91" width="5" height="5.2" fill="#858585"/>
<rect x="424.80" y="245.70" width="5" height="5.2" fill="#858585"/>
<rect x="436.50" y="247.84" width="5" height="5.2" fill="#858585"/>
<rect x="459.90" y="251.49" width="5" height="5.2" fill="#858585"/>
<rect x="670.50" y="261.37" width="5" height="5.2" fill="#858585"/>
<polyline points="398.05,401.16 403.90,386.56 415.60,367.67 427.30,353.50 439.00,344.27 462.40,324.94 673.00,276.64" fill="none" stroke="#333" stroke-width="0.6"/>
<circle cx="398.05" cy="401.16" r="2.75" fill="#000"/>
<circle cx="403.90" cy="386.56" r="2.75" fill="#000"/>
<circle cx="415.60" cy="367.67" r="2.75" fill="#000"/>
<circle cx="427.30" cy="353.50" r="2.75" fill="#000"/>
<circle cx="439.00" cy="344.27" r="2.75" fill="#000"/>
<circle cx="462.40" cy="324.94" r="2.75" fill="#000"/>
<circle cx="673.00" cy="276.64" r="2.75" fill="#000"/>
<polyline points="398.05,440.45 403.90,436.59 415.60,432.51 427.30,429.29 439.00,427.36 462.40,423.49 673.00,413.40" fill="none" stroke="#a4a4a4" stroke-width="0.6" stroke-dasharray="1.6,1.4"/>
<circle cx="398.05" cy="440.45" r="2.75" fill="#858585"/>
<circle cx="403.90" cy="436.59" r="2.75" fill="#858585"/>
<circle cx="415.60" cy="432.51" r="2.75" fill="#858585"/>
<circle cx="427.30" cy="429.29" r="2.75" fill="#858585"/>
<circle cx="439.00" cy="427.36" r="2.75" fill="#858585"/>
<circle cx="462.40" cy="423.49" r="2.75" fill="#858585"/>
<circle cx="673.00" cy="413.40" r="2.75" fill="#858585"/>
</g>
<line x1="556.20" y1="213.50" x2="579.80" y2="213.50" stroke="#555" stroke-width="0.55"/>
<rect x="565.30" y="210.90" width="5.4" height="5.4" fill="#000"/>
<text transform="translate(583.20 217.20) scale(1 1.035)" font-size="9.72" text-anchor="start" fill="#000">Substrate <tspan font-weight="bold">1a</tspan> (donor)</text>
<line x1="556.20" y1="226.50" x2="579.80" y2="226.50" stroke="#444" stroke-width="0.55" stroke-dasharray="1.4,0.9"/>
<rect x="565.30" y="223.90" width="5.4" height="5.4" fill="#858585"/>
<text transform="translate(583.20 230.20) scale(1 1.035)" font-size="9.72" text-anchor="start" fill="#000">Methyl acceptor <tspan font-weight="bold">2c</tspan></text>
<line x1="556.20" y1="239.60" x2="579.80" y2="239.60" stroke="#555" stroke-width="0.55"/>
<circle cx="568.00" cy="239.70" r="2.9" fill="#000"/>
<text transform="translate(583.20 243.30) scale(1 1.035)" font-size="9.72" text-anchor="start" fill="#000">Product <tspan font-weight="bold">2a</tspan></text>
<line x1="556.20" y1="252.60" x2="579.80" y2="252.60" stroke="#a4a4a4" stroke-width="0.55" stroke-dasharray="1.2,1.3"/>
<circle cx="568.00" cy="252.70" r="2.9" fill="#858585"/>
<text transform="translate(583.20 256.30) scale(1 1.035)" font-size="9.72" text-anchor="start" fill="#000">Methylated acceptor <tspan font-weight="bold">1c</tspan></text>
<text transform="translate(359.30 338.60) rotate(-90) scale(1 1.035)" font-size="9.85" text-anchor="middle" fill="#000">Conversion [%]</text>
<text transform="translate(539.00 477.80) scale(1 1.035)" font-size="9.6" text-anchor="middle" fill="#000">Time [h]</text>
</svg>
</body>
</html>
